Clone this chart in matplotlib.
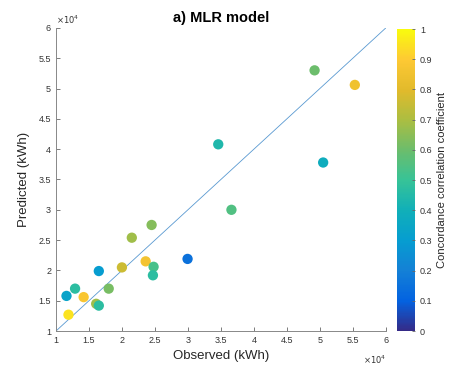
import numpy as np
import matplotlib
matplotlib.use('Agg')
import matplotlib.pyplot as plt
from matplotlib.colors import LinearSegmentedColormap
from matplotlib.ticker import FuncFormatter

# observed / predicted energy (kWh) and concordance correlation coefficient
observed = [11600, 12900, 11900, 14200, 16500, 16100, 16500, 18000, 20000, 21500,
            24500, 23600, 24800, 24700, 29950, 36600, 34600, 49200, 55300, 50500]
predicted = [15800, 17000, 12700, 15600, 19900, 14500, 14200, 17000, 20500, 25400,
             27500, 21500, 20600, 19200, 21900, 30000, 40800, 53000, 50600, 37800]
ccc = [0.33, 0.47, 0.95, 0.88, 0.30, 0.68, 0.47, 0.62, 0.76, 0.68,
       0.64, 0.86, 0.53, 0.47, 0.15, 0.55, 0.44, 0.60, 0.85, 0.38]

ticks = [10000, 15000, 20000, 25000, 30000, 35000, 40000, 45000, 50000, 55000, 60000]
cb_ticks = [0, 0.1, 0.2, 0.3, 0.4, 0.5, 0.6, 0.7, 0.8, 0.9, 1]

# approximation of MATLAB parula
parula = LinearSegmentedColormap.from_list('parula', [
    (0.2081, 0.1663, 0.5292), (0.0116, 0.3875, 0.8820), (0.0784, 0.5040, 0.8384),
    (0.0231, 0.6165, 0.8167), (0.0654, 0.6881, 0.7221), (0.2161, 0.7643, 0.5923),
    (0.4220, 0.7414, 0.4227), (0.6720, 0.7441, 0.2550), (0.8850, 0.7301, 0.1702),
    (0.9946, 0.7883, 0.2025), (0.9763, 0.9831, 0.0538)])

grey = '#262626'
plt.rcParams['font.family'] = 'Liberation Sans'

fig = plt.figure(figsize=(4.74, 3.72), dpi=100)
ax = fig.add_axes([0.118, 0.110, 0.696, 0.815])

ax.plot([10000, 60000], [10000, 60000], color=(0.35, 0.6, 0.82), linewidth=0.6)
sc = ax.scatter(observed, predicted, c=ccc, cmap=parula, vmin=0, vmax=1, s=55,
                edgecolors='none', zorder=3)

ax.set_xlim(10000, 60000)
ax.set_ylim(10000, 60000)
fmt = FuncFormatter(lambda v, p: '%g' % (v / 10000))
ax.set_xticks(ticks)
ax.set_yticks(ticks)
ax.xaxis.set_major_formatter(fmt)
ax.yaxis.set_major_formatter(fmt)
ax.tick_params(direction='in', length=3, width=0.6, labelsize=6.5, colors='#666666',
               labelcolor='#333333')
for side in ['top', 'right']:
    ax.spines[side].set_visible(False)
for side in ['left', 'bottom']:
    ax.spines[side].set_color('#888888')
    ax.spines[side].set_linewidth(0.7)

ax.set_xlabel('Observed (kWh)', fontsize=9.5, color=grey, labelpad=4)
ax.set_ylabel('Predicted (kWh)', fontsize=9.5, color=grey, labelpad=6)
ax.set_title('a) MLR model', fontsize=10.5, fontweight='bold', pad=4)
ax.text(0.0, 1.005, r'$\times10^4$', transform=ax.transAxes, fontsize=6, color='#333333',
        ha='left', va='bottom')
ax.text(1.0, -0.075, r'$\times10^4$', transform=ax.transAxes, fontsize=6, color='#333333',
        ha='right', va='top')

cax = fig.add_axes([0.838, 0.110, 0.038, 0.812])
cb = fig.colorbar(sc, cax=cax, ticks=cb_ticks, format=FuncFormatter(lambda v, p: '%g' % v))
cb.outline.set_visible(False)
cax.tick_params(direction='in', length=2.5, width=0.6, labelsize=6.5, colors='#666666',
                labelcolor='#333333')
cb.set_label('Concordance correlation coefficient', fontsize=8, color=grey, labelpad=3)

plt.savefig('out.png', dpi=100)
